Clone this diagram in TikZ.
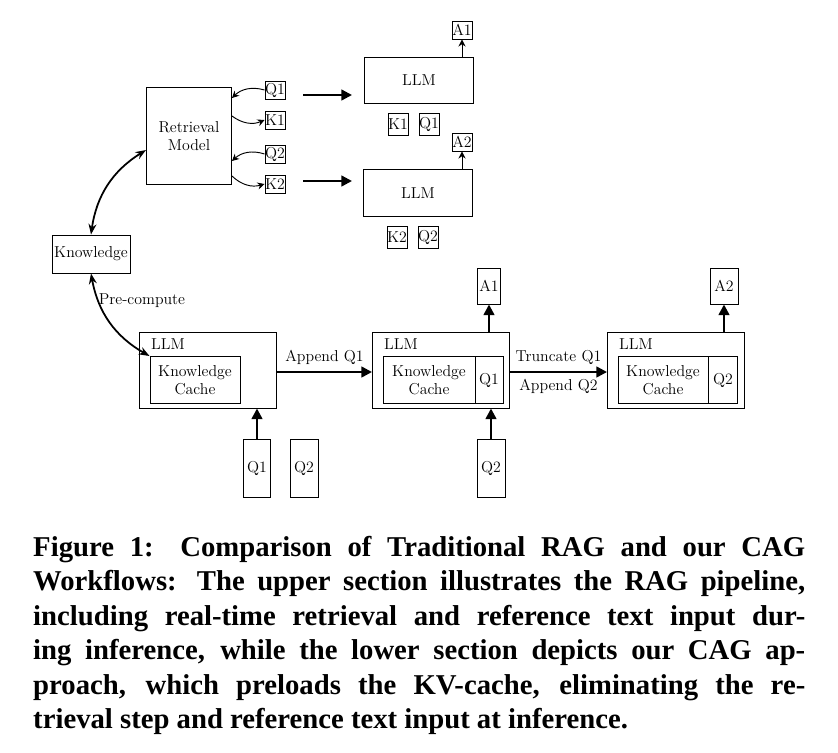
\documentclass[tikz,border=0pt]{standalone}
\usepackage{fontspec}
\newfontfamily\capfont{Liberation Serif}
\usepackage{tikz}
\usetikzlibrary{arrows.meta}
\begin{document}
\begin{tikzpicture}[x=0.03cm,y=-0.03cm,font=\fontsize{13.5}{15}\selectfont]
	\tikzstyle{box}=[draw,thick,inner sep=1pt,align=center];
	\tikzstyle{tok}=[draw,thick,inner sep=0pt,minimum width=0.6cm,minimum height=0.54cm];
	\tikzstyle{big}=[line width=2pt,-{Triangle[length=9pt,width=9pt]}];
	\tikzstyle{thin}=[thick,-{Stealth[length=6pt,width=6pt]}];
	\useasboundingbox (0,0) rectangle (838,752);

	% RAG part
	\node[box,minimum width=2.55cm,minimum height=2.91cm] (ret) at (189,136) {Retrieval\\Model};
	\node[tok] (q1) at (275,90) {Q1};
	\node[tok] (k1) at (275,120) {K1};
	\node[tok] (q2) at (275,154) {Q2};
	\node[tok] (k2) at (275,184) {K2};
	\node[box,minimum width=3.27cm,minimum height=1.38cm] (llma) at (419,80) {LLM};
	\node[box,minimum width=3.27cm,minimum height=1.41cm] (llmb) at (418,193) {LLM};
	\node[tok] (a1) at (462,30) {A1};
	\node[tok] (a2) at (462,142) {A2};
	\node[tok,minimum height=0.66cm] (ka) at (398,124) {K1};
	\node[tok,minimum height=0.66cm] (qa) at (429,124) {Q1};
	\node[tok,minimum height=0.66cm] (kb) at (397,237) {K2};
	\node[tok,minimum height=0.66cm] (qb) at (428,237) {Q2};
	\coordinate (s1) at (303,95); \coordinate (e1) at (352,95);
	\coordinate (s2) at (303,181); \coordinate (e2) at (352,181);
	\draw[big] (s1) -- (e1);
	\draw[big] (s2) -- (e2);
	\draw[thin] (q1.west) to[bend right=30] (ret.east |- 0,98);
	\draw[thin] (ret.east |- 0,116) to[bend right=30] (k1.west);
	\draw[thin] (q2.west) to[bend right=30] (ret.east |- 0,161);
	\draw[thin] (ret.east |- 0,176) to[bend right=30] (k2.west);
	\draw[thin] (llma.north -| a1) -- (a1.south);
	\draw[thin] (llmb.north -| a2) -- (a2.south);

	% knowledge
	\node[box,minimum width=2.34cm,minimum height=1.14cm] (know) at (91,254) {Knowledge};
	\draw[line width=1.5pt,{Stealth[length=9pt]}-{Stealth[length=9pt]}] (know.north) to[bend left=25] (ret.west |- 0,150);

	% CAG part
	\node[box,minimum width=4.11cm,minimum height=2.28cm] (c1) at (208,370) {};
	\node[box,minimum width=4.11cm,minimum height=2.28cm] (c2) at (441,370) {};
	\node[box,minimum width=4.11cm,minimum height=2.28cm] (c3) at (676,370) {};
	\node[anchor=west] at (147,344) {LLM};
	\node[anchor=west] at (380,344) {LLM};
	\node[anchor=west] at (615,344) {LLM};
	\node[box,minimum width=2.7cm,minimum height=1.41cm] (kc1) at (195,380) {Knowledge\\Cache};
	\node[box,minimum width=2.76cm,minimum height=1.41cm] (kc2) at (429,380) {Knowledge\\Cache};
	\node[box,minimum width=0.84cm,minimum height=1.41cm] (cq1) at (489,380) {Q1};
	\node[box,minimum width=2.7cm,minimum height=1.41cm] (kc3) at (663,380) {Knowledge\\Cache};
	\node[box,minimum width=0.87cm,minimum height=1.41cm] (cq3) at (723,380) {Q2};
	\draw[line width=1.5pt,{Stealth[length=9pt]}-{Stealth[length=9pt]}] (know.south) to[bend right=25] (kc1.north west);
	\node at (142,301) {Pre-compute};

	\node[box,minimum width=0.69cm,minimum height=1.08cm] (ra1) at (489,286) {A1};
	\node[box,minimum width=0.84cm,minimum height=1.08cm] (ra2) at (724,286) {A2};
	\node[box,minimum width=0.81cm,minimum height=1.74cm] (bq1) at (257,468) {Q1};
	\node[box,minimum width=0.84cm,minimum height=1.74cm] (bq2) at (304,468) {Q2};
	\node[box,minimum width=0.84cm,minimum height=1.74cm] (bq3) at (491,468) {Q2};
	\draw[big] (c2.north -| ra1) -- (ra1.south);
	\draw[big] (c3.north -| ra2) -- (ra2.south);
	\draw[big] (bq1.north) -- (c1.south -| bq1);
	\draw[big] (bq3.north) -- (c2.south -| bq3);
	\draw[big] (c1.east |- 0,372) -- node[above=2pt] {Append Q1} (c2.west |- 0,372);
	\draw[big] (c2.east |- 0,372) -- node[above=2pt] {Truncate Q1} node[below=2pt] {Append Q2} (c3.west |- 0,372);

	% caption
	\node[anchor=north west,text width=23.16cm,align=justify,inner sep=0pt,
		font=\fontsize{24.5}{29.4}\capfont\bfseries] (cap) at (33,536)
	{Figure 1: Comparison of Traditional RAG and our CAG\linebreak
	Workflows: The upper section illustrates the RAG pipeline,\linebreak
	including real-time retrieval and reference text input dur-\linebreak
	ing inference, while the lower section depicts our CAG ap-\linebreak
	proach, which preloads the KV-cache, eliminating the re-\linebreak
	trieval step and reference text input at inference.};
\end{tikzpicture}
\end{document}
